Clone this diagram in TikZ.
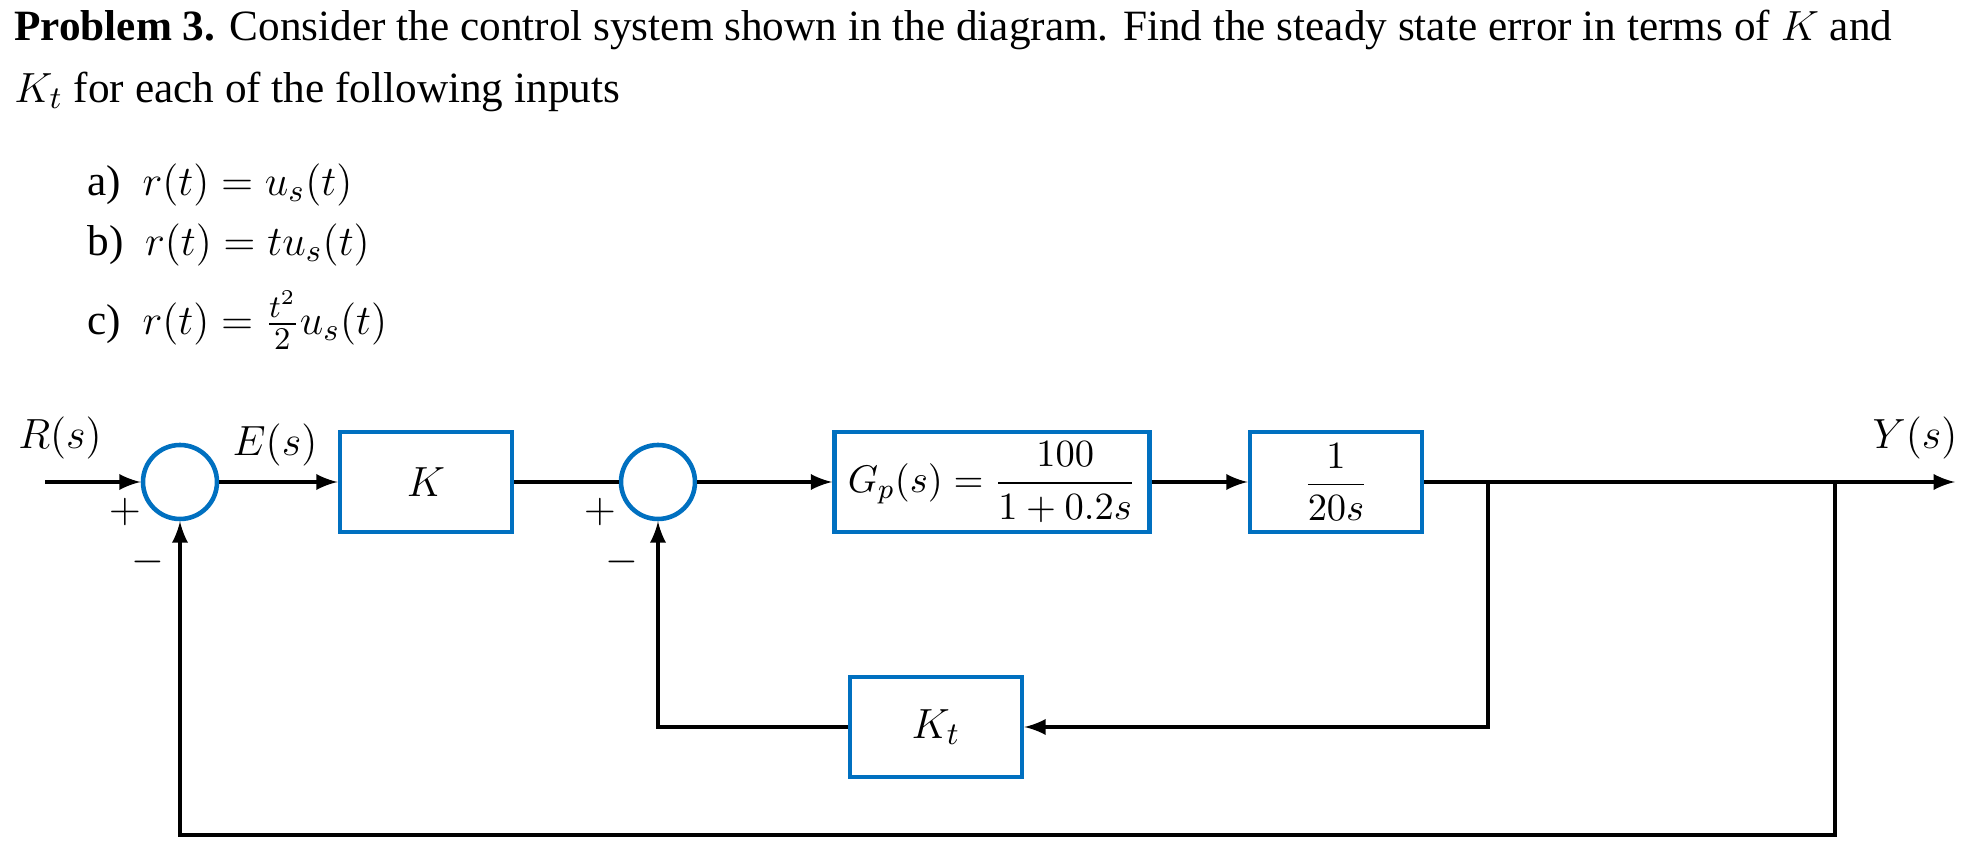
\documentclass[tikz,border=0pt]{standalone}
\usepackage{amsmath}
\usepackage{fontspec}
\setmainfont{Liberation Serif}
\usetikzlibrary{positioning}
\definecolor{blkblue}{RGB}{0,112,192}
\tikzset{
  blk/.style={draw=blkblue, line width=1.3pt, minimum width=1.72cm, minimum height=1cm, inner sep=0pt},
  sumc/.style={circle, draw=blkblue, line width=1.3pt, minimum size=0.74cm, inner sep=0pt},
  sig/.style={line width=1.1pt, -latex},
  ln/.style={line width=1.1pt}
}
\begin{document}
\begin{tikzpicture}[font=\fontsize{12.3}{14}\selectfont]
\useasboundingbox (0,0) rectangle (19.68,-8.58);
% problem text
\node[anchor=west] (l1) at (0.02,-0.3) {\textbf{Problem 3.} Consider the control system shown in the diagram. Find the steady state error in terms of $K$ and};
\node[anchor=west] (l2) at (0.02,-0.92) {$K_t$ for each of the following inputs};
\node[anchor=west] (qa) at (0.75,-1.85) {a)\enspace $r(t)=u_s(t)$};
\node[anchor=west] (qb) at (0.75,-2.45) {b)\enspace $r(t)=tu_s(t)$};
\node[anchor=west] (qc) at (0.75,-3.2) {c)\enspace $r(t)=\frac{t^2}{2}u_s(t)$};
% blocks
\node[sumc] (s1) at (1.8,-4.82) {};
\node[sumc] (s2) at (6.58,-4.82) {};
\node[blk] (k) at (4.26,-4.82) {$K$};
\node[blk, minimum width=3.15cm, font=\fontsize{11}{12}\selectfont] (gp) at (9.92,-4.82) {$G_p(s)=\dfrac{100}{1+0.2s}$};
\node[blk, font=\fontsize{11}{12}\selectfont] (int) at (13.36,-4.82) {$\dfrac{1}{20s}$};
\node[blk] (kt) at (9.36,-7.27) {$K_t$};
% free ends
\coordinate (in) at (0.45,-4.82);
\coordinate (out) at (19.55,-4.82);
\coordinate (br1) at (14.88,-4.82);
\coordinate (br2) at (18.35,-4.82);
% connectors
\draw[sig] (in) -- (s1);
\draw[sig] (s1) -- (k);
\draw[ln] (k) -- (s2);
\draw[sig] (s2) -- (gp);
\draw[sig] (gp) -- (int);
\draw[sig] (int) -- (out);
\draw[sig] (br1) |- (kt);
\draw[sig] (kt) -| (s2);
\draw[sig] (br2) |- (1.8,-8.35) -- (s1);
% labels
\node (r) at (0.6,-4.38) {$R(s)$};
\node (e) at (2.75,-4.45) {$E(s)$};
\node (y) at (19.15,-4.38) {$Y(s)$};
\node (p1) at (1.25,-5.12) {$+$};
\node (m1) at (1.48,-5.62) {$-$};
\node (p2) at (6.0,-5.12) {$+$};
\node (m2) at (6.22,-5.62) {$-$};
\end{tikzpicture}
\end{document}
